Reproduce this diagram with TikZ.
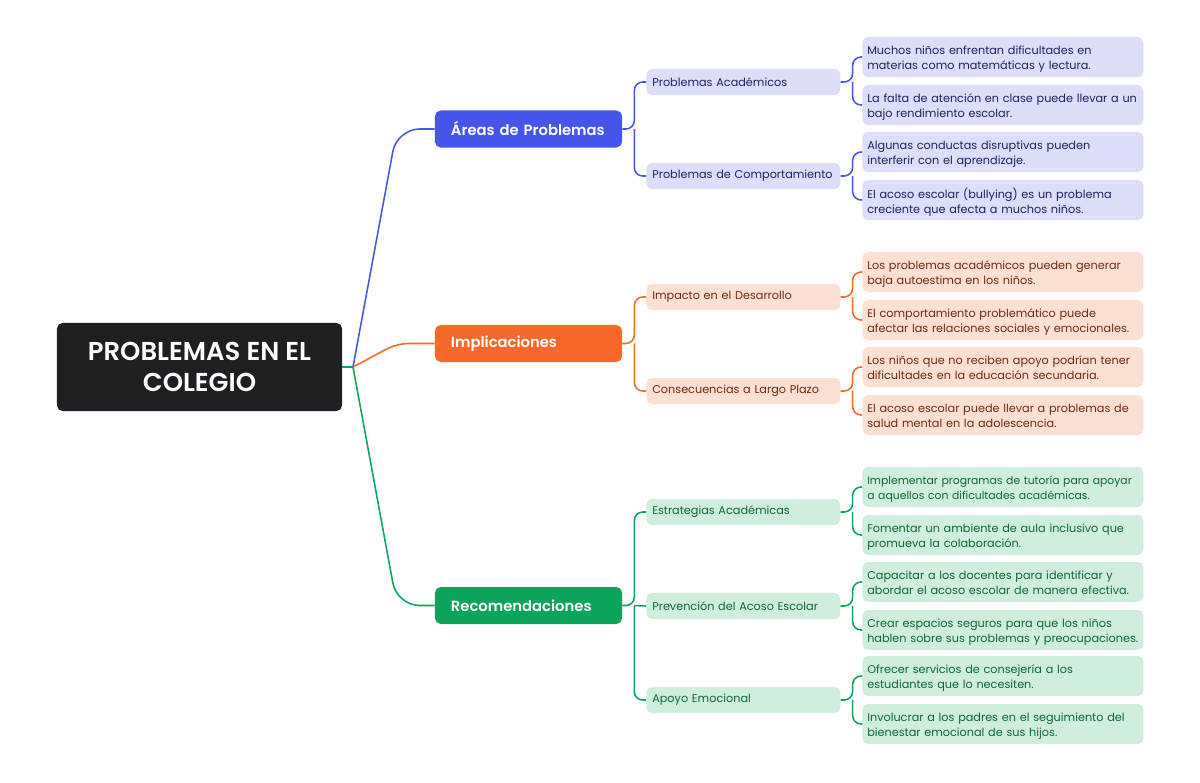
\documentclass[tikz,border=0pt]{standalone}
\usepackage{fontspec}
\setmainfont{Poppins}[BoldFont={Poppins SemiBold}]
\usetikzlibrary{positioning}
\definecolor{rootbg}{RGB}{30,31,35}
\definecolor{azMain}{RGB}{69,84,234}
\definecolor{azSoft}{RGB}{220,222,250}
\definecolor{azText}{RGB}{31,33,96}
\definecolor{naMain}{RGB}{247,104,42}
\definecolor{naSoft}{RGB}{252,224,212}
\definecolor{naText}{RGB}{110,42,16}
\definecolor{veMain}{RGB}{12,163,90}
\definecolor{veSoft}{RGB}{208,238,222}
\definecolor{veText}{RGB}{11,104,55}

\begin{document}
\begin{tikzpicture}[x=0.025cm,y=-0.025cm,
    rootbox/.style={fill=rootbg,text=white,rounded corners=4pt,minimum width=7.125cm,
      minimum height=2.2cm,align=center,font=\fontsize{18.4}{21.5}\selectfont\bfseries},
    mainbox/.style={rounded corners=4pt,text=white,minimum width=4.675cm,minimum height=0.925cm,
      text width=3.875cm,inner xsep=0.4cm,align=left,font=\fontsize{10.5}{12}\selectfont\bfseries},
    subbox/.style={rounded corners=4pt,anchor=west,minimum height=0.65cm,text width=4.55cm,
      inner xsep=0.15cm,align=left,font=\fontsize{8}{10}\selectfont},
    leafbox/.style={rounded corners=4pt,anchor=west,minimum height=1cm,text width=6.775cm,
      inner xsep=0.125cm,align=left,text depth=10pt,font=\fontsize{8}{10.7}\selectfont},
    link/.style={line width=1.1pt,rounded corners=6pt}]
  \useasboundingbox (0,0) rectangle (1200,782);

  % centro
  \node[rootbox] (root) at (199.5,367) {PROBLEMAS EN EL\\COLEGIO};
  \coordinate (hub) at (353,367);

  % ramas principales
  \node[mainbox,fill=azMain] (areas) at (528.5,129) {Áreas de Problemas};
  \node[mainbox,fill=naMain] (impl) at (528.5,343.5) {Implicaciones};
  \node[mainbox,fill=veMain] (recom) at (528.5,605.5) {Recomendaciones};

  % subtemas
  \node[subbox,fill=azSoft,text=azText] (pacad) at (646,82) {Problemas Académicos};
  \node[subbox,fill=azSoft,text=azText] (pcomp) at (646,176) {Problemas de Comportamiento};
  \node[subbox,fill=naSoft,text=naText] (impac) at (646,297) {Impacto en el Desarrollo};
  \node[subbox,fill=naSoft,text=naText] (conse) at (646,391) {Consecuencias a Largo Plazo};
  \node[subbox,fill=veSoft,text=veText] (estra) at (646,512) {Estrategias Académicas};
  \node[subbox,fill=veSoft,text=veText] (preve) at (646,606) {Prevención del Acoso Escolar};
  \node[subbox,fill=veSoft,text=veText] (apoyo) at (646,700) {Apoyo Emocional};

  % hojas
  \node[leafbox,fill=azSoft,text=azText] (pacadA) at (862,57) {Muchos niños enfrentan dificultades en\\materias como matemáticas y lectura.};
  \node[leafbox,fill=azSoft,text=azText] (pacadB) at (862,105) {La falta de atención en clase puede llevar a un\\bajo rendimiento escolar.};
  \node[leafbox,fill=azSoft,text=azText] (pcompA) at (862,152) {Algunas conductas disruptivas pueden\\interferir con el aprendizaje.};
  \node[leafbox,fill=azSoft,text=azText] (pcompB) at (862,200) {El acoso escolar (bullying) es un problema\\creciente que afecta a muchos niños.};
  \node[leafbox,fill=naSoft,text=naText] (impacA) at (862,272) {Los problemas académicos pueden generar\\baja autoestima en los niños.};
  \node[leafbox,fill=naSoft,text=naText] (impacB) at (862,320) {El comportamiento problemático puede\\afectar las relaciones sociales y emocionales.};
  \node[leafbox,fill=naSoft,text=naText] (conseA) at (862,367) {Los niños que no reciben apoyo podrían tener\\dificultades en la educación secundaria.};
  \node[leafbox,fill=naSoft,text=naText] (conseB) at (862,415) {El acoso escolar puede llevar a problemas de\\salud mental en la adolescencia.};
  \node[leafbox,fill=veSoft,text=veText,font=\fontsize{7.7}{10.7}\selectfont] (estraA) at (862,487) {\mbox{Implementar programas de tutoría para apoyar}\\a aquellos con dificultades académicas.};
  \node[leafbox,fill=veSoft,text=veText] (estraB) at (862,535) {Fomentar un ambiente de aula inclusivo que\\promueva la colaboración.};
  \node[leafbox,fill=veSoft,text=veText] (preveA) at (862,582) {Capacitar a los docentes para identificar y\\abordar el acoso escolar de manera efectiva.};
  \node[leafbox,fill=veSoft,text=veText] (preveB) at (862,630) {Crear espacios seguros para que los niños\\hablen sobre sus problemas y preocupaciones.};
  \node[leafbox,fill=veSoft,text=veText] (apoyoA) at (862,676) {Ofrecer servicios de consejería a los\\estudiantes que lo necesiten.};
  \node[leafbox,fill=veSoft,text=veText] (apoyoB) at (862,724) {Involucrar a los padres en el seguimiento del\\bienestar emocional de sus hijos.};

  % conectores del centro
  \draw[link,veMain] (root.east) -- (hub);
  \draw[link,azMain,rounded corners=16pt] (hub) -- (397,129) -- (areas.west);
  \draw[link,naMain,rounded corners=8pt] (hub) -- (397,343.5) -- (impl.west);
  \draw[link,veMain,rounded corners=16pt] (hub) -- (397,605.5) -- (recom.west);

  % conectores a subtemas
  \draw[link,azMain] (areas.east) -- ++(12,0) coordinate (kA) |- (pacad.west);
  \draw[link,azMain] (kA) |- (pcomp.west);
  \draw[link,naMain] (impl.east) -- ++(12,0) coordinate (kI) |- (impac.west);
  \draw[link,naMain] (kI) |- (conse.west);
  \draw[link,veMain] (recom.east) -- ++(12,0) coordinate (kR) |- (estra.west);
  \draw[link,veMain] (kR) |- (apoyo.west);
  \draw[link,veMain] (kR) -- (preve.west);

  % conectores a hojas
  \foreach \s/\c in {pacad/azMain,pcomp/azMain,impac/naMain,conse/naMain,estra/veMain,preve/veMain,apoyo/veMain}{
    \draw[link,\c] (\s.east) -- ++(12,0) coordinate (k\s) |- (\s A.west);
    \draw[link,\c] (k\s) |- (\s B.west);
  }
\end{tikzpicture}
\end{document}
